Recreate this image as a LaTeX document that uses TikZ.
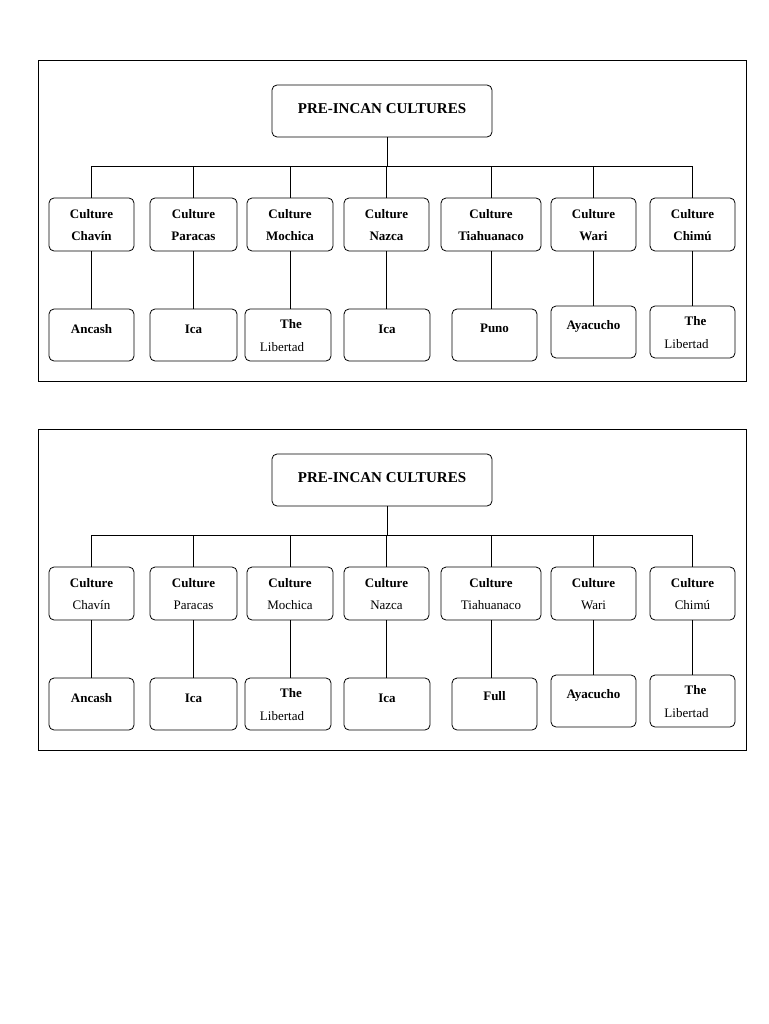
\documentclass[tikz,border=0pt]{standalone}
\usepackage{fontspec}
\setmainfont{Liberation Serif}
\begin{document}
\begin{tikzpicture}[x=1pt,y=-1pt,
  bx/.style={draw,rounded corners=5pt,line width=0.8pt,inner sep=0pt},
  ln/.style={line width=0.8pt},
  fr/.style={draw,line width=0.7pt},
  every node/.append style={font=\fontsize{13}{15}\selectfont}]
\useasboundingbox (0,0) rectangle (768,1024);
\foreach \o/\p in {0/a,369/b}{
  \begin{scope}[yshift=-\o pt]
  \draw[fr] (38,60) rectangle (746,381);
  \node[bx,minimum width=220pt,minimum height=52pt] (\p T) at (382,111) {};
  \node[font=\fontsize{15}{17}\selectfont\bfseries] at ([yshift=2pt]\p T.center) {PRE-INCAN CULTURES};
  \foreach \i/\x/\w/\n/\bx/\bw/\by/\bt in {
    1/91.5/85/Chavín/91.5/85/335/Ancash,
    2/193.5/87/Paracas/193.5/87/335/Ica,
    3/290/86/Mochica/288/86/335/L,
    4/386.5/85/Nazca/387/86/335/Ica,
    5/491/100/Tiahuanaco/494.5/85/335/X,
    6/593.5/85/Wari/593.5/85/332/Ayacucho,
    7/692.5/85/Chimú/692.5/85/332/L}{
    \node[bx,minimum width=\w pt,minimum height=53pt] (\p C\i) at (\x,224.5) {};
    \node[font=\fontsize{13}{15}\selectfont\bfseries] at ([yshift=10pt]\p C\i.center) {Culture};
    \ifnum\o=0
      \node[font=\fontsize{13}{15}\selectfont\bfseries] at ([yshift=-12pt]\p C\i.center) {\n};
    \else
      \node at ([yshift=-12pt]\p C\i.center) {\n};
    \fi
    \node[bx,minimum width=\bw pt,minimum height=52pt] (\p B\i) at (\bx,\by) {};
    \draw[ln] (\p C\i.south) -- (\p C\i.south |- \p B\i.north);
    \draw[ln] (\p C\i.north) -- ++(0,-32);
  }
  \draw[ln] (91.5,166) -- (692.5,166);
  \draw[ln] (387,137) -- (387,166);
  \foreach \i/\t in {1/Ancash,2/Ica,4/Ica,6/Ayacucho}{
    \node[font=\fontsize{13}{15}\selectfont\bfseries] at ([yshift=6pt]\p B\i.center) {\t};}
  \ifnum\o=0 \node[font=\fontsize{13}{15}\selectfont\bfseries] at ([yshift=7pt]\p B5.center) {Puno};
  \else \node[font=\fontsize{13}{15}\selectfont\bfseries] at ([yshift=8pt]\p B5.center) {Full}; \fi
  \foreach \i in {3,7}{
    \node[font=\fontsize{13}{15}\selectfont\bfseries] at ([xshift=3pt,yshift=11pt]\p B\i.center) {The};
    \node at ([xshift=-6pt,yshift=-12pt]\p B\i.center) {Libertad};}
  \end{scope}}
\end{tikzpicture}
\end{document}
